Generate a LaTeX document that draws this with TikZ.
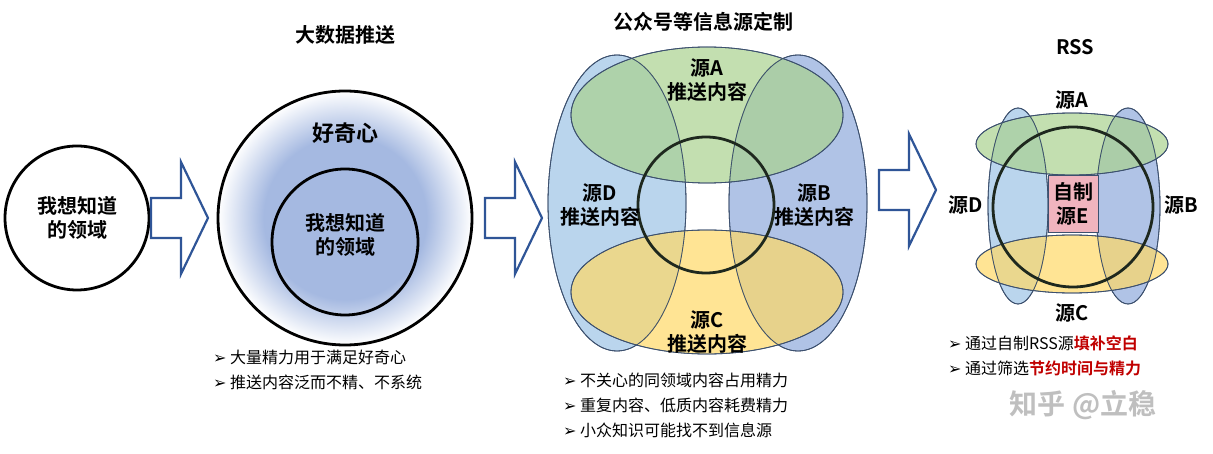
\documentclass[tikz,border=0pt]{standalone}
\usepackage{fontspec}
\setmainfont{Noto Sans CJK SC}[BoldFont={Noto Sans CJK SC Bold}]
\newfontfamily\symf{DejaVu Sans}
\definecolor{gA}{HTML}{A9D18E}
\definecolor{bD}{HTML}{9DC3E6}
\definecolor{bB}{HTML}{8FAADC}
\definecolor{yC}{HTML}{FFD966}
\definecolor{redt}{HTML}{C00000}
\definecolor{arr}{HTML}{2F5597}
\definecolor{midb}{RGB}{165,185,225}
\pgfdeclareradialshading{myrad}{\pgfpoint{0bp}{0bp}}{color(0bp)=(midb);color(16bp)=(midb);color(25bp)=(white);color(50bp)=(white)}
\begin{document}
\begin{tikzpicture}[x=1pt,y=-1pt,
 lab/.style={font=\fontsize{20}{24}\selectfont\bfseries,align=center,inner sep=0pt},
 ttl/.style={font=\fontsize{20}{23}\selectfont\bfseries,inner sep=0pt},
 bul/.style={font=\fontsize{16}{25}\selectfont,anchor=west,align=left,inner sep=0pt},
 barrow/.style={draw=arr,line width=2.2pt,fill=white,line join=miter},
 ell/.style={draw={rgb,255:red,60;green,80;blue,110},line width=0.8pt,fill opacity=0.7},
 ring/.style={draw={rgb,255:red,30;green,40;blue,30},line width=2.8pt}]
\useasboundingbox (0,0) rectangle (1213,454);
\def\blockarrow(#1,#2){\draw[barrow] (#1,#2-20) -- ++(30,0) -- ++(0,-36) -- ++(27,56) -- ++(-27,56) -- ++(0,-36) -- ++(-30,0) -- cycle;}
% left circle
\node[circle,draw,line width=2.8pt,minimum size=144pt,lab] (c1) at (77,218) {我想知道\\的领域};
\blockarrow(151,218)
% big shaded circle
\shade[shading=myrad] (345,218) circle (127);
\node[circle,draw,line width=2.8pt,minimum size=254pt] (c2) at (345,218) {};
\node[circle,draw,line width=2.8pt,minimum size=146pt] (c3) at (345,242) {};
\node[lab,font=\fontsize{22}{24}\selectfont\bfseries] (t2) at (345,133) {好奇心};
\node[lab] (t3) at (345,235) {我想知道\\的领域};
\node[ttl] (h1) at (345,35) {大数据推送};
\node[bul] (b1) at (213,370) {{\symf ➢} 大量精力用于满足好奇心\\{\symf ➢} 推送内容泛而不精、不系统};
\blockarrow(485,218)
% middle
\node[ttl] (h2) at (703,22) {公众号等信息源定制};
\fill[ell,fill=bD] (617,203) ellipse (69 and 148);
\fill[ell,fill=bB] (798,203) ellipse (69 and 148);
\fill[ell,fill=gA] (707,115) ellipse (136 and 68);
\fill[ell,fill=yC] (707,292) ellipse (136 and 62);
\draw[ell] (617,203) ellipse (69 and 148);
\draw[ell] (798,203) ellipse (69 and 148);
\draw[ell] (707,115) ellipse (136 and 68);
\draw[ell] (707,292) ellipse (136 and 62);
\node[circle,ring,minimum size=136pt] (c4) at (706,205) {};
\node[lab] (sA) at (707,80) {源A\\推送内容};
\node[lab] (sD) at (600,205) {源D\\推送内容};
\node[lab] (sB) at (814,205) {源B\\推送内容};
\node[lab] (sC) at (707,332) {源C\\推送内容};
\node[bul] (b2) at (563,405) {{\symf ➢} 不关心的同领域内容占用精力\\{\symf ➢} 重复内容、低质内容耗费精力\\{\symf ➢} 小众知识可能找不到信息源};
\blockarrow(879,190)
% right
\node[ttl] (h3) at (1075,47) {RSS};
\fill[ell,fill=bD] (1018,206) ellipse (30 and 98);
\fill[ell,fill=bB] (1128,206) ellipse (32 and 98);
\fill[ell,fill=gA] (1072,144) ellipse (96 and 31);
\fill[ell,fill=yC] (1072,264) ellipse (96 and 29);
\draw[ell] (1018,206) ellipse (30 and 98);
\draw[ell] (1128,206) ellipse (32 and 98);
\draw[ell] (1072,144) ellipse (96 and 31);
\draw[ell] (1072,264) ellipse (96 and 29);
\node[circle,ring,minimum size=160pt] (c5) at (1073,207) {};
\node[draw={rgb,255:red,60;green,80;blue,110},fill={rgb,255:red,240;green,180;blue,190},minimum width=50pt,minimum height=57pt,lab] (sE) at (1073,204) {自制\\源E};
\node[lab] (rA) at (1072,100) {源A};
\node[lab] (rC) at (1072,313) {源C};
\node[lab] (rD) at (966,205) {源D};
\node[lab] (rB) at (1181,205) {源B};
\node[bul] (b3) at (948,356) {{\symf ➢} 通过自制RSS源\textcolor{redt}{\textbf{填补空白}}\\{\symf ➢} 通过筛选\textcolor{redt}{\textbf{节约时间与精力}}};
\node[font=\fontsize{28}{30}\selectfont\bfseries,text=black!25,inner sep=0pt] (wm) at (1083,405) {知乎 @立稳};
\end{tikzpicture}
\end{document}
